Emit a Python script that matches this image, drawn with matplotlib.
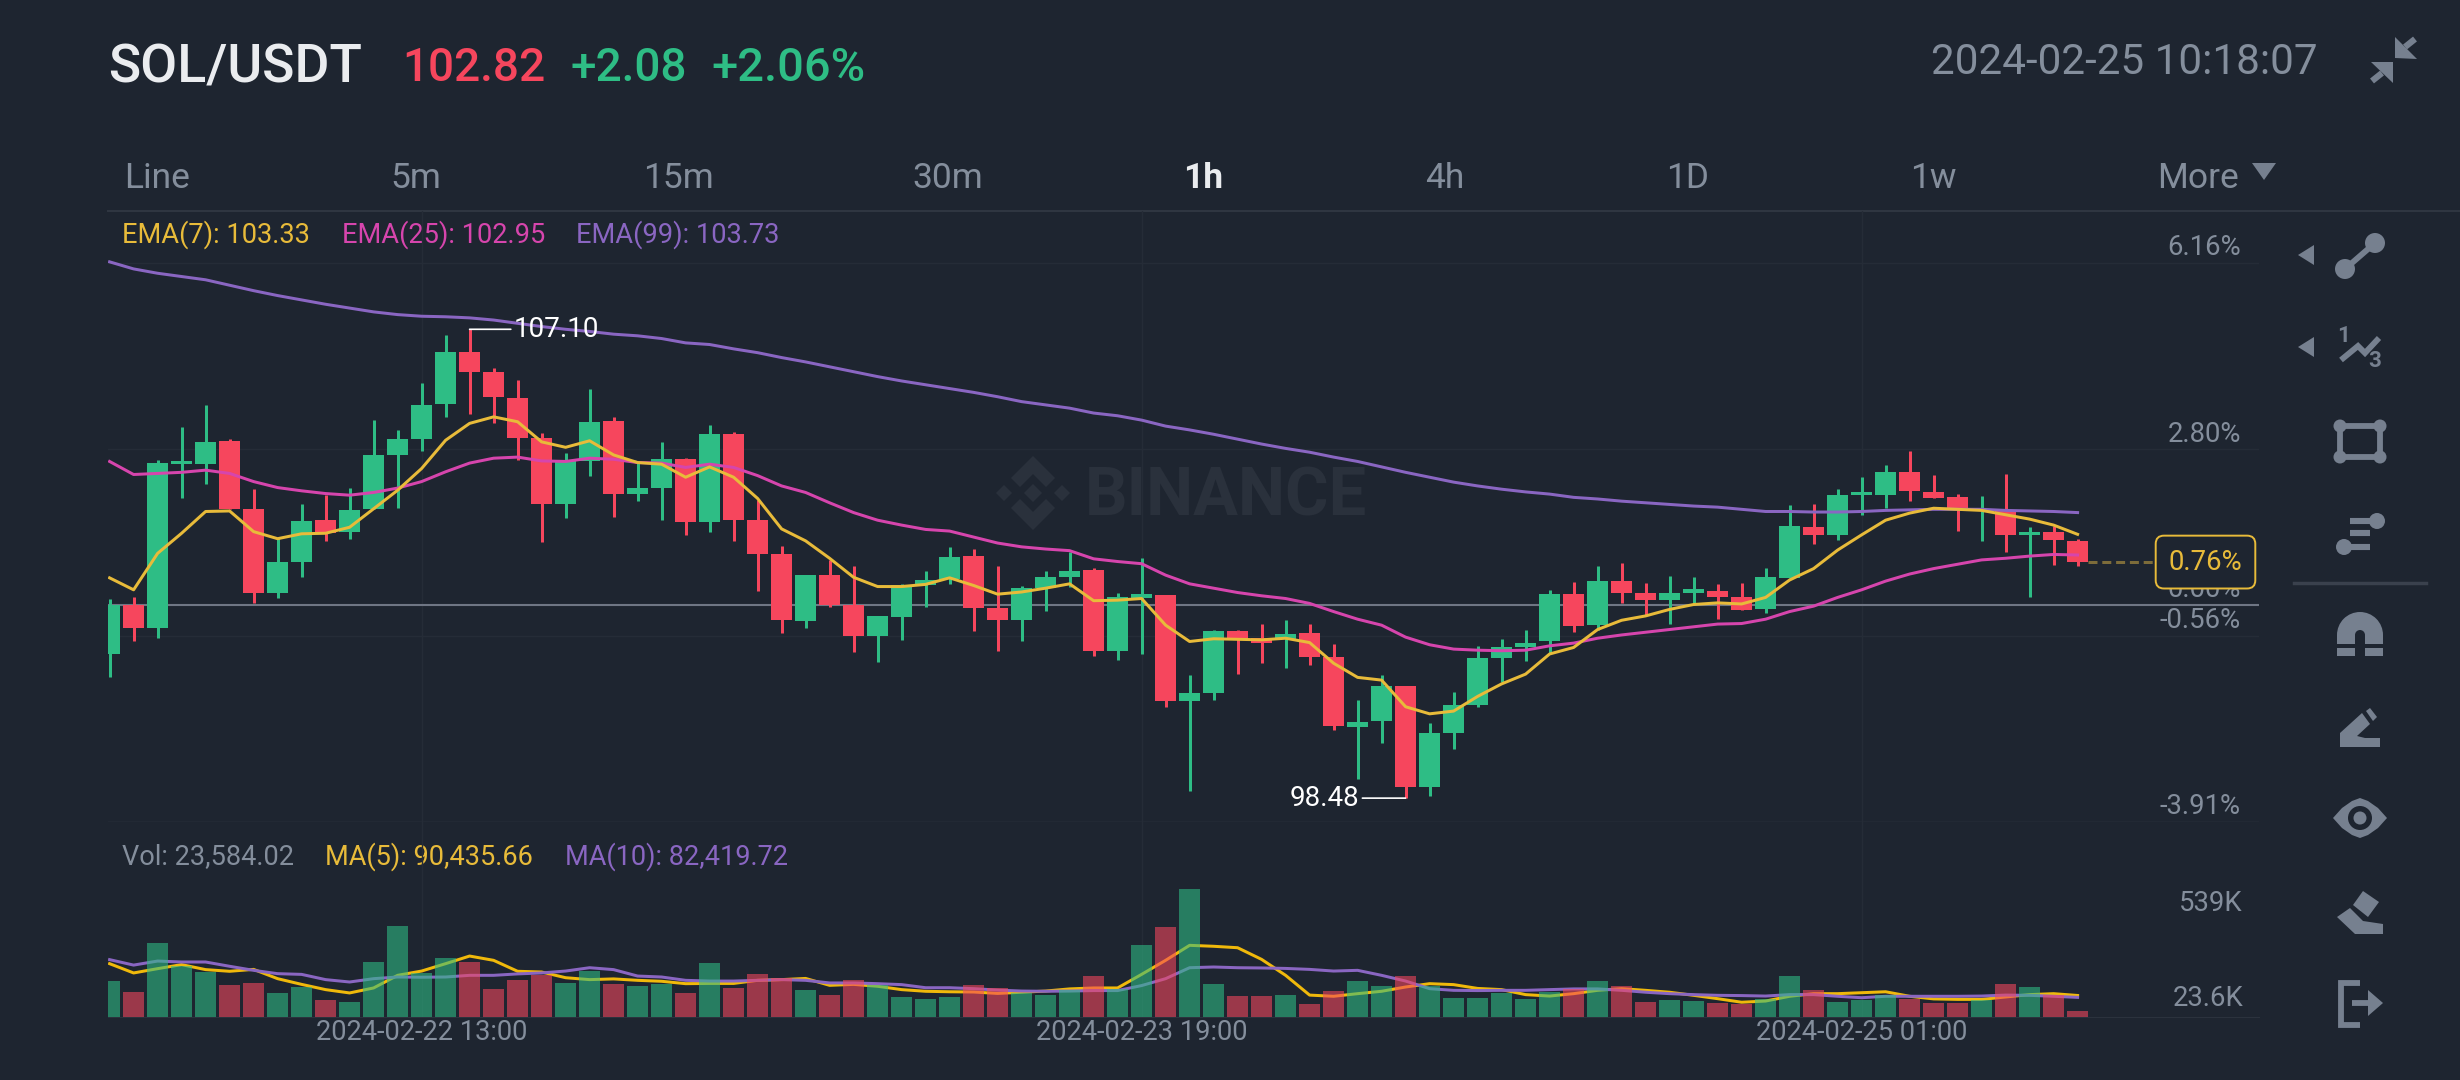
import matplotlib
matplotlib.use("Agg")
import matplotlib.pyplot as plt
from matplotlib.patches import Polygon, Circle, Wedge, Rectangle

plt.rcParams['font.family'] = ['Roboto', 'DejaVu Sans']

BG = '#1e2530'
GREEN = '#2ebd85'
RED = '#f6465d'
YELLOW = '#f0b90b'
YELLOW_TXT = '#e8bb3a'
PINK = '#d645ad'
PURPLE = '#8a66c2'
GREY = '#848e9c'
ICON = '#76808f'
GRID = '#252c37'

# hourly candles, first one is 2024-02-22 00:00
opens = [101.13, 102.03, 101.60, 104.62, 104.62, 105.05, 103.80, 102.26, 102.83, 103.59,
         103.38, 103.79, 104.78, 105.08, 105.72, 106.68, 106.32, 105.84, 105.10, 103.88,
         104.67, 105.41, 104.07, 104.19, 104.71, 103.55, 105.18, 103.59, 102.96, 101.74,
         102.59, 102.04, 101.47, 101.81, 102.39, 102.50, 102.93, 101.97, 101.76, 102.35,
         102.54, 102.68, 101.19, 102.16, 102.22, 100.27, 100.41, 101.55, 101.42, 101.41,
         101.51, 101.07, 99.79, 99.89, 100.54, 98.69, 99.68, 100.19, 101.06, 101.25,
         101.36, 102.23, 101.66, 102.48, 102.25, 102.13, 102.25, 102.29, 102.17, 101.95,
         102.53, 103.46, 103.32, 104.05, 104.05, 104.48, 104.11, 104.02, 103.77, 103.75,
         103.32, 103.37, 103.21]
closes = [102.03, 101.60, 104.64, 104.67, 105.03, 103.80, 102.26, 102.83, 103.58, 103.35,
          103.78, 104.79, 105.08, 105.71, 106.69, 106.31, 105.86, 105.10, 103.88, 104.67,
          105.40, 104.07, 104.18, 104.71, 103.55, 105.18, 103.59, 102.97, 101.75, 102.59,
          102.03, 101.47, 101.82, 102.40, 102.49, 102.91, 101.97, 101.76, 102.35, 102.54,
          102.66, 101.19, 102.18, 102.23, 100.27, 100.41, 101.55, 101.39, 101.34, 101.50,
          101.07, 99.81, 99.88, 100.54, 98.69, 99.67, 100.20, 101.05, 101.25, 101.34,
          102.23, 101.65, 102.48, 102.26, 102.12, 102.26, 102.32, 102.17, 101.94, 102.54,
          103.48, 103.32, 104.05, 104.10, 104.48, 104.12, 104.00, 103.79, 103.80, 103.32,
          103.37, 103.23, 102.82]
highs = [102.15, 102.18, 104.70, 105.31, 105.70, 105.09, 104.16, 103.26, 103.89, 104.05,
         104.18, 105.43, 105.24, 106.11, 106.99, 107.10, 106.39, 106.17, 105.20, 104.82,
         106.01, 105.48, 104.64, 105.02, 104.74, 105.34, 105.22, 103.96, 103.12, 102.59,
         102.86, 102.75, 101.82, 102.42, 102.65, 103.09, 103.06, 102.75, 102.38, 102.65,
         103.01, 102.71, 102.25, 102.90, 102.22, 100.75, 101.58, 101.57, 101.68, 101.75,
         101.68, 101.31, 100.28, 100.75, 100.54, 99.86, 100.44, 101.28, 101.40, 101.58,
         102.31, 102.45, 102.74, 102.80, 102.44, 102.57, 102.55, 102.42, 102.44, 102.72,
         103.87, 103.88, 104.16, 104.39, 104.60, 104.86, 104.42, 104.07, 104.03, 104.44,
         103.46, 103.48, 103.24]
lows = [100.70, 101.37, 101.43, 104.00, 104.26, 103.80, 102.06, 102.16, 102.55, 103.20,
        103.24, 103.79, 103.81, 104.86, 105.48, 105.55, 105.37, 104.70, 103.18, 103.63,
        104.40, 103.65, 103.94, 103.59, 103.32, 103.38, 103.20, 102.28, 101.51, 101.61,
        101.99, 101.17, 100.98, 101.38, 101.99, 102.42, 101.56, 101.18, 101.36, 101.92,
        102.37, 101.09, 101.02, 101.13, 100.15, 98.61, 100.28, 100.77, 100.96, 100.87,
        100.92, 99.73, 98.83, 99.49, 98.48, 98.51, 99.38, 100.16, 100.62, 101.00,
        101.14, 101.53, 101.57, 102.06, 101.85, 101.68, 102.04, 101.78, 101.94, 101.89,
        102.53, 103.15, 103.23, 103.68, 103.81, 103.94, 103.99, 103.40, 103.20, 103.01,
        102.17, 102.77, 102.74]
ema7 = [102.53, 102.31, 102.98, 103.35, 103.75, 103.76, 103.38, 103.25, 103.34, 103.35,
        103.46, 103.80, 104.14, 104.54, 105.06, 105.37, 105.49, 105.40, 105.03, 104.93,
        105.05, 104.79, 104.65, 104.62, 104.38, 104.57, 104.38, 103.99, 103.43, 103.21,
        102.89, 102.54, 102.37, 102.37, 102.41, 102.53, 102.39, 102.23, 102.27, 102.34,
        102.42, 102.11, 102.12, 102.15, 101.66, 101.36, 101.41, 101.40, 101.39, 101.42,
        101.34, 100.96, 100.70, 100.65, 100.16, 100.03, 100.08, 100.35, 100.58, 100.76,
        101.13, 101.25, 101.58, 101.75, 101.83, 101.95, 102.04, 102.07, 102.05, 102.17,
        102.49, 102.70, 103.04, 103.32, 103.59, 103.72, 103.81, 103.79, 103.77, 103.69,
        103.61, 103.50, 103.33]
ema25 = [104.67, 104.43, 104.45, 104.47, 104.51, 104.45, 104.30, 104.19, 104.13, 104.08,
         104.05, 104.10, 104.18, 104.30, 104.48, 104.64, 104.73, 104.75, 104.68, 104.67,
         104.73, 104.71, 104.65, 104.64, 104.56, 104.62, 104.56, 104.41, 104.22, 104.10,
         103.91, 103.73, 103.59, 103.50, 103.42, 103.39, 103.28, 103.17, 103.10, 103.06,
         103.03, 102.88, 102.83, 102.79, 102.58, 102.42, 102.34, 102.26, 102.20, 102.15,
         102.06, 101.91, 101.77, 101.66, 101.44, 101.30, 101.22, 101.20, 101.19, 101.20,
         101.28, 101.33, 101.42, 101.48, 101.53, 101.58, 101.63, 101.68, 101.69, 101.77,
         101.91, 102.01, 102.17, 102.31, 102.47, 102.60, 102.70, 102.78, 102.86, 102.89,
         102.93, 102.96, 102.95]
ema99 = [108.34, 108.21, 108.13, 108.07, 108.01, 107.91, 107.81, 107.72, 107.64, 107.56,
         107.49, 107.42, 107.37, 107.34, 107.33, 107.31, 107.27, 107.21, 107.15, 107.10,
         107.06, 107.01, 106.98, 106.93, 106.85, 106.82, 106.74, 106.67, 106.58, 106.50,
         106.41, 106.32, 106.23, 106.15, 106.08, 106.01, 105.94, 105.86, 105.77, 105.71,
         105.65, 105.56, 105.51, 105.43, 105.32, 105.25, 105.17, 105.08, 104.99, 104.91,
         104.84, 104.75, 104.67, 104.57, 104.47, 104.38, 104.29, 104.22, 104.16, 104.11,
         104.07, 104.01, 103.98, 103.94, 103.91, 103.88, 103.85, 103.83, 103.79, 103.75,
         103.75, 103.74, 103.74, 103.75, 103.77, 103.78, 103.79, 103.79, 103.79, 103.77,
         103.76, 103.75, 103.73]

# volume in thousands
volume = [151, 105, 312, 213, 189, 136, 144, 102, 126, 70,
          64, 230, 384, 185, 249, 231, 119, 155, 178, 143,
          193, 137, 129, 140, 99, 225, 123, 182, 165, 115,
          91, 154, 133, 84, 74, 84, 136, 120, 101, 92,
          112, 171, 119, 302, 379, 539, 137, 88, 88, 94,
          56, 108, 153, 129, 171, 129, 80, 81, 101, 77,
          105, 119, 150, 130, 64, 70, 66, 59, 55, 77,
          174, 113, 63, 73, 91, 77, 60, 59, 73, 140,
          125, 91, 23.6]
ma5 = [224, 185, 203, 220, 199, 192, 200, 161, 137, 115,
       101, 122, 175, 193, 224, 256, 238, 192, 189, 165,
       157, 160, 154, 150, 140, 141, 141, 154, 157, 162,
       133, 137, 129, 115, 108, 106, 105, 99, 104, 109,
       118, 122, 122, 179, 238, 301, 297, 291, 242, 175,
       92, 87, 98, 108, 126, 140, 136, 120, 115, 94,
       88, 98, 112, 119, 112, 104, 91, 77, 62, 67,
       87, 98, 98, 102, 106, 87, 76, 74, 74, 84,
       94, 98, 90.4]
ma10 = [241, 218, 235, 231, 231, 213, 196, 182, 179, 157,
        147, 161, 168, 167, 168, 175, 175, 181, 185, 193,
        207, 199, 172, 168, 154, 151, 151, 154, 157, 154,
        143, 143, 140, 136, 123, 123, 119, 113, 109, 108,
        109, 111, 111, 132, 161, 207, 210, 207, 206, 204,
        200, 193, 196, 175, 151, 119, 112, 111, 112, 112,
        115, 118, 118, 112, 104, 98, 94, 91, 90, 88,
        94, 94, 87, 81, 87, 87, 87, 87, 88, 92,
        91, 87, 82.4]

base_price = 102.04
pct_ticks = [6.16, 2.80, -0.56, -3.91]
date_ticks = [13, 43, 73]
date_labels = ['2024-02-22 13:00', '2024-02-23 19:00', '2024-02-25 01:00']
tabs = ['Line', '5m', '15m', '30m', '1h', '4h', '1D', '1w', 'More']

W, H = 2460, 1080
fig = plt.figure(figsize=(W / 100, H / 100), dpi=100, facecolor=BG)


def px_axes(x0, y0, x1, y1, z):
    return fig.add_axes([x0 / W, 1 - y1 / H, (x1 - x0) / W, (y1 - y0) / H], zorder=z)


def pts(px):
    return px * 0.72


# background layer in pixels: header, watermark, toolbar icons
bg = px_axes(0, 0, W, H, 0)
bg.set_xlim(0, W)
bg.set_ylim(H, 0)
bg.axis('off')

bg.text(108, 68, 'SOL/USDT', color='#eaecef', fontsize=38.5, fontweight='medium', va='center', ha='left')
bg.text(402, 68, '102.82', color=RED, fontsize=33, fontweight='medium', va='center', ha='left')
bg.text(570, 68, '+2.08', color=GREEN, fontsize=33, fontweight='medium', va='center', ha='left')
bg.text(711, 68, '+2.06%', color=GREEN, fontsize=33.8, fontweight='medium', va='center', ha='left')
bg.text(2318, 62, '2024-02-25 10:18:07', color=GREY, fontsize=30.3, va='center', ha='right')

tab_x = [157, 416, 678, 948, 1203, 1445, 1688, 1933, 2198]
for name, x in zip(tabs, tab_x):
    if name == '1h':
        bg.text(x, 178, name, color='#eaecef', fontsize=25.5, fontweight='bold', va='center', ha='center')
    else:
        bg.text(x, 178, name, color=GREY, fontsize=25.5, va='center', ha='center')
bg.add_patch(Polygon([(2252, 163), (2276, 163), (2264, 180)], color=ICON, lw=0))
bg.plot([108, W], [211, 211], color='#2f3641', lw=1.5)

bg.text(122, 235, 'EMA(7): 103.33', color=YELLOW_TXT, fontsize=19.6, va='center')
bg.text(342, 235, 'EMA(25): 102.95', color=PINK, fontsize=19.6, va='center')
bg.text(576, 235, 'EMA(99): 103.73', color=PURPLE, fontsize=19.6, va='center')
bg.text(122, 857, 'Vol: 23,584.02', color=GREY, fontsize=19.5, va='center')
bg.text(325, 857, 'MA(5): 90,435.66', color=YELLOW_TXT, fontsize=19.5, va='center')
bg.text(565, 857, 'MA(10): 82,419.72', color=PURPLE, fontsize=19.5, va='center')

# watermark
WM = '#2a313c'
cx, cy = 1033, 493
for pts_ in ([(0, -37), (22, -15), (13, -6), (0, -19), (-13, -6), (-22, -15)],
             [(0, 37), (22, 15), (13, 6), (0, 19), (-13, 6), (-22, 15)],
             [(0, -9), (9, 0), (0, 9), (-9, 0)],
             [(-29, -8), (-21, 0), (-29, 8), (-37, 0)],
             [(29, -8), (37, 0), (29, 8), (21, 0)]):
    bg.add_patch(Polygon([(cx + a, cy + b) for a, b in pts_], color=WM, lw=0))
bg.text(1085, 498, 'BINANCE', color=WM, fontsize=48, fontweight='bold', va='center', ha='left')


# toolbar icons
def poly(p):
    bg.add_patch(Polygon(p, color=ICON, lw=0))


def dot(x, y, r):
    bg.add_patch(Circle((x, y), r, color=ICON, lw=0))


def seg(xs, ys, lw=4.2):
    bg.plot(xs, ys, color=ICON, lw=lw, solid_capstyle='butt', solid_joinstyle='miter')


# compress arrows, top right
poly([(2395, 37), (2395, 58), (2417, 59)])
seg([2405, 2415], [47, 39], 4.5)
poly([(2371, 62), (2393, 62), (2393, 83)])
seg([2382, 2372], [73, 81], 4.5)

poly([(2298, 255), (2314, 245), (2314, 265)])
poly([(2298, 347), (2314, 337), (2314, 357)])
# line tool
dot(2345, 269, 10)
dot(2375, 243, 10)
seg([2345, 2375], [269, 243])
# fib tool
bg.text(2344, 336, '1', color=ICON, fontsize=16, fontweight='bold', ha='center', va='center')
bg.text(2375, 361, '3', color=ICON, fontsize=16, fontweight='bold', ha='center', va='center')
seg([2341, 2358, 2365, 2379], [360, 346, 353, 338], 4.2)
# rectangle tool
seg([2340, 2380, 2380, 2340, 2340], [426, 426, 457, 457, 426])
for x, y in [(2340, 426), (2380, 426), (2340, 457), (2380, 457)]:
    dot(x, y, 6.5)
# parallel tool
seg([2350, 2377], [521, 521], 4.4)
seg([2350, 2370], [533, 533], 4.4)
seg([2344, 2370], [547, 547], 4.4)
dot(2377, 521, 8)
dot(2344, 547, 8)
bg.plot([2294, 2426], [583, 583], color='#3a414d', lw=2.5)
# magnet
bg.add_patch(Wedge((2360, 635), 23, 180, 360, width=18, color=ICON, lw=0))
bg.add_patch(Rectangle((2337, 635), 18, 9, color=ICON, lw=0))
bg.add_patch(Rectangle((2365, 635), 18, 9, color=ICON, lw=0))
bg.add_patch(Rectangle((2337, 648), 18, 8, color=ICON, lw=0))
bg.add_patch(Rectangle((2365, 648), 18, 8, color=ICON, lw=0))
# pencil
poly([(2340, 747), (2340, 733), (2362, 713), (2370, 724), (2357, 736), (2365, 738), (2380, 738), (2380, 747)])
poly([(2366, 711), (2370, 708), (2377, 717), (2373, 721)])
# eye
poly([(2333, 818), (2342, 808), (2352, 801), (2360, 798), (2368, 801), (2378, 808), (2387, 818),
      (2378, 828), (2368, 835), (2360, 838), (2352, 835), (2342, 828)])
bg.add_patch(Circle((2360, 818), 12, color=BG, lw=0))
dot(2360, 818, 6.5)
# eraser
poly([(2363, 891), (2379, 902), (2368, 917), (2353, 905)])
poly([(2337, 917), (2350, 908), (2363, 921), (2383, 924), (2383, 934), (2355, 934)])
# exit
seg([2360, 2341, 2341, 2360], [983, 983, 1025, 1025], 4.2)
seg([2352, 2370], [1003, 1003], 4.2)
poly([(2368, 990), (2383, 1003), (2368, 1016)])

# price panel
LEFT, RIGHT = 108, 2259
px_hour = 24.0
x0 = (LEFT - 109.6) / px_hour
x1 = (RIGHT - 109.6) / px_hour
y_per_px = base_price / 100 / 55.5
ax = px_axes(LEFT, 211, RIGHT, 822, 1)
ax.patch.set_alpha(0)
ax.set_xlim(x0, x1)
ax.set_ylim(base_price - (822 - 604.5) * y_per_px, base_price + (604.5 - 211) * y_per_px)
for side in ax.spines.values():
    side.set_visible(False)
ax.set_xticks([])
ax.set_yticks([])

pct_prices = [base_price * (1 + p / 100) for p in pct_ticks]
for p, price in zip(pct_ticks, pct_prices):
    ax.axhline(price, color='#343b47' if p == pct_ticks[-1] else GRID, lw=1, zorder=1)
    ax.annotate('%.2f%%' % p, (1, price), xycoords=ax.get_yaxis_transform(), xytext=(pts(-18), pts(15)),
                textcoords='offset points', color=GREY, fontsize=19.8, ha='right', va='center')
for t in date_ticks:
    ax.axvline(t, color=GRID, lw=1, zorder=1)
ax.axhline(base_price, color='#6f7684', lw=1.5, zorder=1)
ax.annotate('0.00%', (1, base_price), xycoords=ax.get_yaxis_transform(), xytext=(pts(-18), pts(15)),
            textcoords='offset points', color=GREY, fontsize=19.8, ha='right', va='center')

hours = list(range(len(closes)))
colors = [GREEN if c >= o else RED for o, c in zip(opens, closes)]
ax.vlines(hours, lows, highs, colors=colors, lw=pts(3), zorder=2)
ax.bar(hours, [abs(c - o) for o, c in zip(opens, closes)], bottom=[min(o, c) for o, c in zip(opens, closes)],
       width=21 / px_hour, color=colors, lw=0, zorder=2)

ax.plot(hours, ema99, color=PURPLE, lw=pts(3), zorder=3)
ax.plot(hours, ema25, color=PINK, lw=pts(3), zorder=4)
ax.plot(hours, ema7, color=YELLOW_TXT, lw=pts(3), zorder=5)

# max / min markers
ax.annotate('107.10', (15, 107.10), xytext=(pts(44), 0), textcoords='offset points', color='white',
            fontsize=20, ha='left', va='center', zorder=7,
            arrowprops=dict(arrowstyle='-', color='white', lw=1.2, shrinkA=0, shrinkB=0))
ax.annotate('98.48', (54, 98.48), xytext=(pts(-46), 0), textcoords='offset points', color='white',
            fontsize=20, ha='right', va='center', zorder=7,
            arrowprops=dict(arrowstyle='-', color='white', lw=1.2, shrinkA=0, shrinkB=0))

# last price tag
last = closes[-1]
ax.plot([hours[-1] + 0.44, (2154 - 109.6) / px_hour], [last, last], color='#7d6c3a', lw=pts(3),
        ls=(0, (3, 1.6)), zorder=3)
ax.annotate('0.76%', (1, last), xycoords=ax.get_yaxis_transform(), xytext=(pts(-53.5), 0),
            textcoords='offset points', color=YELLOW_TXT, fontsize=19.8, ha='center', va='center', zorder=8,
            bbox=dict(boxstyle='round,pad=0.47,rounding_size=0.3', fc=BG, ec=YELLOW_TXT, lw=1.4))

# volume panel, lines sit under the translucent bars
ax_vol = px_axes(LEFT, 822, RIGHT, 1017, 1)
ax_vol.patch.set_alpha(0)
ax_vol.set_xlim(x0, x1)
ax_vol.set_ylim(0, 195 * 4.2)
for name, side in ax_vol.spines.items():
    side.set_visible(name == 'bottom')
ax_vol.spines['bottom'].set_color('#2b323d')
ax_vol.set_yticks([])
ax_vol.set_xticks(date_ticks)
ax_vol.set_xticklabels(date_labels, color=GREY, fontsize=19.6)
ax_vol.tick_params(axis='x', length=0, pad=pts(2))
for t in date_ticks:
    ax_vol.axvline(t, color=GRID, lw=1, zorder=1)

ax_vol.plot(hours, ma5, color=YELLOW, lw=pts(3), zorder=2)
ax_vol.plot(hours, ma10, color=PURPLE, lw=pts(3), zorder=3)
ax_vol.bar(hours, volume, width=21 / px_hour, color=colors, alpha=0.58, lw=0, zorder=4)

ax_vol.annotate('539K', (1, max(volume)), xycoords=ax_vol.get_yaxis_transform(), xytext=(pts(-16), pts(-15)),
                textcoords='offset points', color=GREY, fontsize=19.8, ha='right', va='center')
ax_vol.annotate('23.6K', (1, volume[-1]), xycoords=ax_vol.get_yaxis_transform(), xytext=(pts(-16), pts(13)),
                textcoords='offset points', color=GREY, fontsize=19.8, ha='right', va='center')

fig.savefig('out.png', dpi=100, facecolor=BG)
